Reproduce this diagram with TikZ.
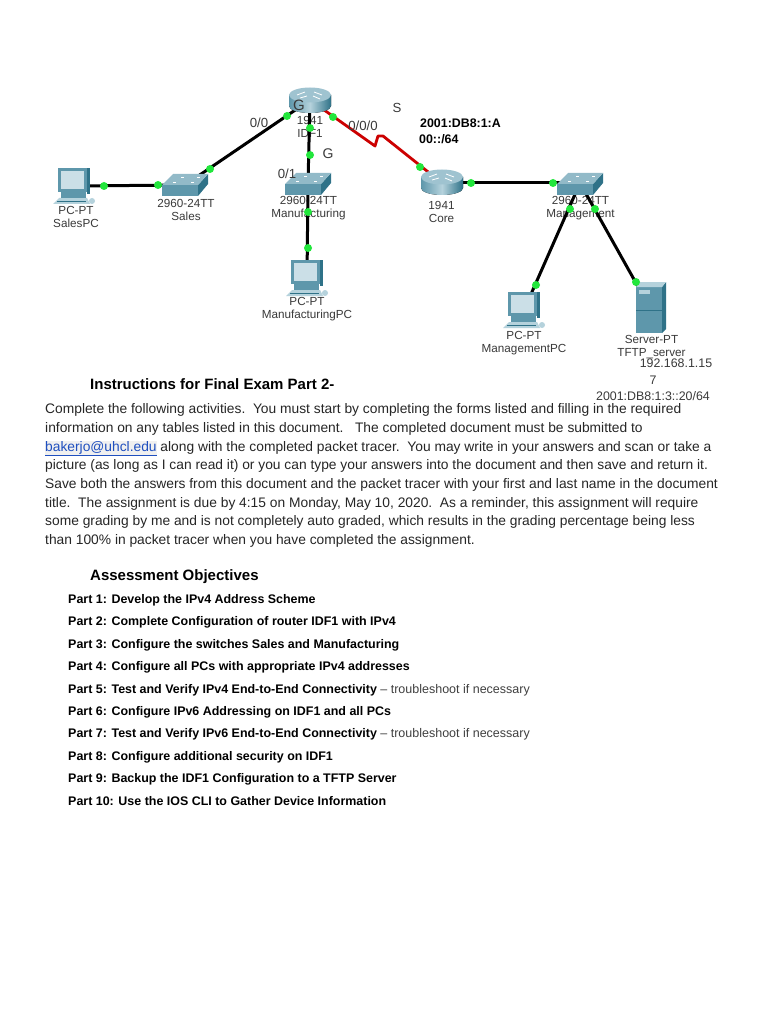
\documentclass[tikz,border=0pt]{standalone}
\usepackage{fontspec}
\setmainfont{Liberation Sans}
\usepackage{xcolor}
\usetikzlibrary{positioning}

\definecolor{tealmid}{HTML}{5E97AB}
\definecolor{tealdark}{HTML}{2F7288}
\definecolor{teallight}{HTML}{B5D2DC}
\definecolor{portgreen}{HTML}{22E63C}
\definecolor{labelgray}{HTML}{3A3A3A}
\definecolor{mailblue}{HTML}{1F4FBF}

\tikzset{
    device/.style={rectangle, inner sep=0pt, minimum width=20pt, minimum height=12pt},
    port/.style={circle, fill=portgreen, inner sep=0pt, minimum size=8pt},
    link/.style={line width=3pt, black},
    serial/.style={line width=2.8pt, red!80!black, line join=round},
    devlabel/.style={font=\fontsize{11.7}{13}\selectfont, text=labelgray, inner sep=0pt, align=center},
    iflabel/.style={font=\fontsize{13.2}{15}\selectfont, text=labelgray, inner sep=0pt},
    addr/.style={font=\fontsize{12.4}{15}\selectfont, text=labelgray, inner sep=0pt},
    heading/.style={font=\fontsize{15}{15}\bfseries\selectfont, inner sep=0pt, anchor=base west},
    pc/.pic={
        \fill[teallight] (-21,18) -- (-15,12) -- (13,12) -- (16,18) -- cycle;
        \fill[tealmid] (-13,6) -- (12,6) -- (12,12) -- (-13,12) -- cycle;
        \fill[tealdark] (13,-18) -- (16,-18) -- (16,8) -- (13,8) -- cycle;
        \fill[tealmid] (-16,-18) rectangle (13,6);
        \fill[teallight!70!white] (-13,-15) rectangle (10,3);
        \draw[tealdark, line width=0.7pt] (-17,15) -- (12,15);
        \fill[teallight] (18,15) circle (3pt);
    },
    switchbox/.pic={
        \fill[tealmid] (-23,0) rectangle (13,11);
        \fill[tealdark] (13,0) -- (23,-11) -- (23,-1) -- (13,11) -- cycle;
        \fill[teallight!60!tealmid] (-23,0) -- (-12,-11) -- (23,-11) -- (13,0) -- cycle;
        \draw[white, line width=0.7pt] (-12,-3) -- (-9,-3) (-4,-8) -- (-1,-8) (6,-3) -- (9,-3) (12,-8) -- (15,-8);
    },
    router/.pic={
        \fill[left color=tealmid, right color=tealdark, middle color=teallight] (-21,-5) -- (-21,6) arc[start angle=180, end angle=360, x radius=21, y radius=-7] -- (21,-5) -- cycle;
        \fill[teallight!75!tealmid] (0,-5) ellipse (21 and 7.5);
        \draw[white, line width=0.8pt] (-13,-5) -- (-5,-8) (-10,-2) -- (-3,-4) (4,-8) -- (12,-5) (3,-4) -- (10,-1);
    },
    tower/.pic={
        \fill[tealmid] (-14,-21) rectangle (12,25);
        \fill[tealdark] (12,-21) -- (16,-26) -- (16,21) -- (12,25) -- cycle;
        \fill[teallight] (-14,-21) -- (-10,-26) -- (16,-26) -- (12,-21) -- cycle;
        \fill[teallight] (-11,-18) rectangle (0,-14);
        \draw[tealdark, line width=0.4pt] (-14,2) -- (12,2);
    }
}

\begin{document}
\begin{tikzpicture}[x=1pt, y=-1pt]
\useasboundingbox[fill=white] (0,0) rectangle (768,1024);

% labels under the links
\node[devlabel] at (76,216.5) {PC-PT\\SalesPC};
\node[devlabel] at (186,210) {2960-24TT\\Sales};
\node[devlabel] at (310,127) {1941\\IDF1};
\node[devlabel] at (308.5,208) {2960-24TT\\Manufacturing};
\node[devlabel] at (307,309) {PC-PT\\ManufacturingPC};
\node[devlabel] at (441.5,211.5) {1941\\Core};
\node[devlabel] at (580.5,208) {2960-24TT\\Management};
\node[devlabel] at (524,343) {PC-PT\\ManagementPC};
\node[devlabel] at (651.5,347) {Server-PT\\TFTP\_server};

% devices
\node[device] (salesPC) at (74,186) {};
\node[device] (salesSw) at (185,185) {};
\node[device] (idf) at (310,100) {};
\node[device] (manuSw) at (308,184) {};
\node[device] (manuPC) at (307,278) {};
\node[device] (core) at (442,183) {};
\node[device] (mgmtSw) at (580,183) {};
\node[device] (mgmtPC) at (524,310) {};
\node[device] (tftp) at (650,308) {};
\coordinate (kinkA) at (375,146);
\coordinate (kinkB) at (378,136);
\coordinate (kinkC) at (383,136);

% links
\draw[link] (salesPC) -- (salesSw);
\draw[link] (salesSw) -- (idf);
\draw[link] (idf) -- (manuSw);
\draw[link] (manuSw) -- (manuPC);
\draw[link] (core) -- (mgmtSw);
\draw[link] (mgmtSw) -- (mgmtPC);
\draw[link] (mgmtSw) -- (tftp);
\draw[serial] (idf) -- (kinkA) -- (kinkB) -- (kinkC) -- (core);

% icons
\pic at (74,186) {pc};
\pic at (185,185) {switchbox};
\pic at (310,100) {router};
\pic at (308,184) {switchbox};
\pic at (307,278) {pc};
\pic at (442,182) {router};
\pic at (580,184) {switchbox};
\pic at (524,310) {pc};
\pic at (650,308) {tower};

% ports
\node[port] (p1) at (104,186) {};
\node[port] (p2) at (158,185) {};
\node[port] (p3) at (210,169) {};
\node[port] (p4) at (287,116) {};
\node[port] (p5) at (333,117) {};
\node[port] (p6) at (310,128) {};
\node[port] (p7) at (310,155) {};
\node[port] (p8) at (308,212) {};
\node[port] (p9) at (308,248) {};
\node[port] (p10) at (420,167) {};
\node[port] (p11) at (471,183) {};
\node[port] (p12) at (553,183) {};
\node[port] (p13) at (570,209) {};
\node[port] (p14) at (595,209) {};
\node[port] (p15) at (536,285) {};
\node[port] (p16) at (636,282) {};

% interface notes
\node[iflabel, font=\fontsize{15}{15}\selectfont] (gA) at (299,105) {G};
\node[iflabel] (ifA) at (259,123) {0/0};
\node[iflabel] (ifB) at (363,126) {0/0/0};
\node[iflabel, font=\fontsize{14}{15}\selectfont] (gB) at (328,154) {G};
\node[iflabel] (ifC) at (287,174) {0/1};
\node[iflabel] (sA) at (397,108) {S};
\node[font=\fontsize{12.4}{16}\bfseries\selectfont, inner sep=0pt, anchor=north west, align=left] (ipA) at (419,118.5) {\hspace{1pt}2001:DB8:1:A\\00::/64};
\node[addr] (ipB) at (676,363) {192.168.1.15};
\node[addr] (ipC) at (653,380) {7};
\node[addr] (ipD) at (653,396) {2001:DB8:1:3::20/64};

% text
\node[heading] (title) at (90,389) {Instructions for Final Exam Part 2-};
\node[font=\fontsize{13.8}{18.7}\selectfont, text=black!85, inner sep=0pt, anchor=north west, align=left] (body) at (45,403.5) {Complete the following activities.\ \ You must start by completing the forms listed and filling in the required\\
information on any tables listed in this document.\ \ \ The completed document must be submitted to\\
\fboxsep=0pt\colorbox{black!6}{\textcolor{mailblue}{\underline{bakerjo@uhcl.edu}}} along with the completed packet tracer.\ \ You may write in your answers and scan or take a\\
picture (as long as I can read it) or you can type your answers into the document and then save and return it.\\
Save both the answers from this document and the packet tracer with your first and last name in the document\\
title.\ \ The assignment is due by 4:15 on Monday, May 10, 2020.\ \ As a reminder, this assignment will require\\
some grading by me and is not completely auto graded, which results in the grading percentage being less\\
than 100\% in packet tracer when you have completed the assignment.};
\node[heading] (objectives) at (90,580) {Assessment Objectives};
\node[font=\fontsize{12.45}{22.45}\bfseries\selectfont, inner sep=0pt, anchor=north west, align=left] (parts) at (68,594) {Part 1: Develop the IPv4 Address Scheme\\
Part 2: Complete Configuration of router IDF1 with IPv4\\
Part 3: Configure the switches Sales and Manufacturing\\
Part 4: Configure all PCs with appropriate IPv4 addresses\\
Part 5: Test and Verify IPv4 End-to-End Connectivity \textcolor{black!75}{\fontsize{12.5}{22.45}\mdseries\selectfont -- troubleshoot if necessary}\\
Part 6: Configure IPv6 Addressing on IDF1 and all PCs\\
Part 7: Test and Verify IPv6 End-to-End Connectivity \textcolor{black!75}{\fontsize{12.5}{22.45}\mdseries\selectfont -- troubleshoot if necessary}\\
Part 8: Configure additional security on IDF1\\
Part 9: Backup the IDF1 Configuration to a TFTP Server\\
Part 10: Use the IOS CLI to Gather Device Information};
\end{tikzpicture}
\end{document}
